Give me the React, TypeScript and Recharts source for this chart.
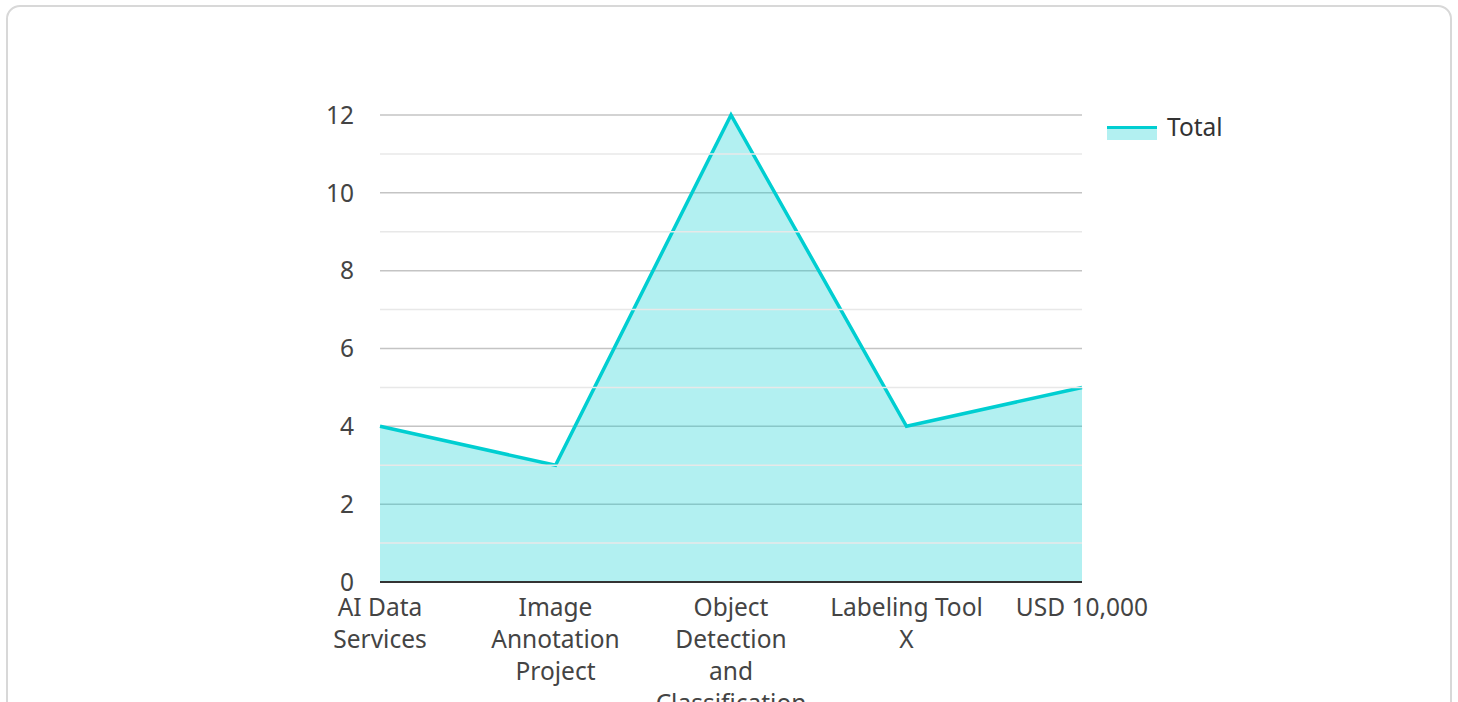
import { Area, AreaChart, CartesianGrid, Legend, ReferenceLine, XAxis, YAxis } from 'recharts';

const categories = [
  'AI Data Services',
  'Image Annotation Project',
  'Object Detection and Classification',
  'Labeling Tool X',
  'USD 10,000',
];
const totals = [4, 3, 12, 4, 5];
const majorTicks = [0, 2, 4, 6, 8, 10, 12];
const minorTicks = [1, 3, 5, 7, 9, 11];

const data = categories.map((name, i) => ({ name, total: totals[i] }));

const FONT = '"Noto Sans", sans-serif';
const FONT_SIZE = 24.5;
const TEAL = '#00CED1';
const TEXT = '#444444';

let ctx: CanvasRenderingContext2D | null = null;
function measure(s: string) {
  if (!ctx) ctx = document.createElement('canvas').getContext('2d');
  if (!ctx) return s.length * FONT_SIZE * 0.55;
  ctx.font = `${FONT_SIZE}px ${FONT}`;
  return ctx.measureText(s).width;
}

// wrap words greedily to a max width
function wrap(label: string, maxWidth: number) {
  const lines: string[] = [];
  let cur = '';
  label.split(' ').forEach((w) => {
    const next = cur ? `${cur} ${w}` : w;
    if (cur && measure(next) > maxWidth) {
      lines.push(cur);
      cur = w;
    } else {
      cur = next;
    }
  });
  if (cur) lines.push(cur);
  return lines;
}

function CategoryTick(props: any) {
  const { x, y, payload } = props;
  const lines = wrap(String(payload.value), 155);
  return (
    <text x={x} y={y} textAnchor="middle" fill={TEXT} fontSize={FONT_SIZE} fontFamily={FONT}>
      {lines.map((l, i) => (
        <tspan key={i} x={x} dy={i === 0 ? 17 : 32}>
          {l}
        </tspan>
      ))}
    </text>
  );
}

function LegendContent() {
  return (
    <div style={{ display: 'flex', alignItems: 'flex-start', fontFamily: FONT }}>
      <svg width={50} height={16} style={{ display: 'block', marginTop: 0 }}>
        <rect x={0} y={1} width={50} height={14} fill={TEAL} fillOpacity={0.3} />
        <line x1={0} x2={50} y1={2.5} y2={2.5} stroke={TEAL} strokeWidth={3} />
      </svg>
      <span style={{ marginLeft: 10, fontSize: FONT_SIZE, color: '#333', lineHeight: '24px', marginTop: -10 }}>
        Total
      </span>
    </div>
  );
}

export default function App() {
  return (
    <div style={{ position: 'absolute', left: 0, top: 0, width: 1458, height: 702, overflow: 'hidden', background: '#fff' }}>
      <div
        style={{
          position: 'absolute',
          left: 6,
          top: 5,
          width: 1442,
          height: 740,
          border: '2px solid #d8d8d8',
          borderRadius: 14,
        }}
      />
      <div style={{ position: 'absolute', left: 0, top: 0 }}>
        <AreaChart
          width={1458}
          height={702}
          data={data}
          margin={{ top: 115, right: 376, bottom: 20, left: 320 }}
        >
          <CartesianGrid vertical={false} stroke="#c4c4c4" strokeWidth={1.5} />
          {minorTicks.map((v) => (
            <ReferenceLine key={v} y={v} stroke="#e8e8e8" strokeWidth={1.5} />
          ))}
          <XAxis
            dataKey="name"
            interval={0}
            height={100}
            tickSize={0}
            tickMargin={17}
            axisLine={{ stroke: '#333', strokeWidth: 2 }}
            tick={<CategoryTick />}
          />
          <YAxis
            width={60}
            domain={[0, 12]}
            ticks={majorTicks}
            axisLine={false}
            tickLine={false}
            tickSize={0}
            tickMargin={26}
            tick={{ fill: TEXT, fontSize: FONT_SIZE, fontFamily: FONT }}
          />
          <Legend
            verticalAlign="middle"
            layout="horizontal"
            align="center"
            content={<LegendContent />}
            wrapperStyle={{ top: 125, left: 1107, width: 160 }}
          />
          <Area
            type="linear"
            dataKey="total"
            name="Total"
            stroke={TEAL}
            strokeWidth={3.5}
            fill={TEAL}
            fillOpacity={0.3}
            dot={false}
            activeDot={false}
            isAnimationActive={false}
          />
        </AreaChart>
      </div>
    </div>
  );
}
